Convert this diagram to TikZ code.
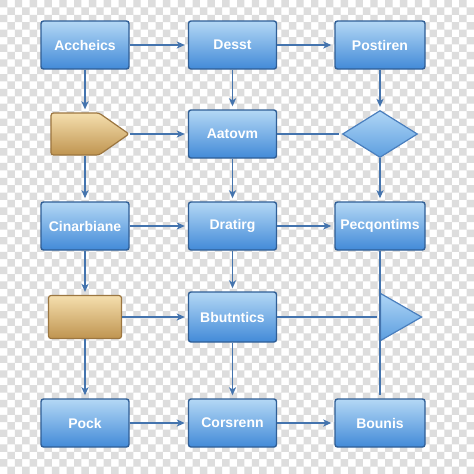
\documentclass[tikz,border=0pt]{standalone}
\usepackage{fontspec}
\setmainfont{Liberation Sans}
\usetikzlibrary{positioning, shapes.geometric, shapes.symbols, arrows.meta}
\definecolor{checker}{HTML}{DDDDDD}
\definecolor{boxtop}{HTML}{B4D8F5}
\definecolor{boxbot}{HTML}{428AD8}
\definecolor{boxedge}{HTML}{2F5E96}
\definecolor{tantop}{HTML}{F5DFAE}
\definecolor{tanbot}{HTML}{BF9450}
\definecolor{tanedge}{HTML}{9C7640}
\definecolor{shapetop}{HTML}{B0D6F6}
\definecolor{shapebot}{HTML}{5C9EDF}
\definecolor{shapeedge}{HTML}{4A7FBE}
\definecolor{linkblue}{HTML}{4474AE}
\tikzset{>={Stealth[length=8pt,width=7pt,inset=2pt]},node distance=147.5pt,on grid,
  box/.style={draw=boxedge, line width=1.4pt, rounded corners=2.5pt,
    top color=boxtop, bottom color=boxbot, minimum width=88pt, minimum height=48pt,
    text=white, font=\fontsize{14}{16}\selectfont\bfseries},
  tanbox/.style={draw=tanedge, line width=1.2pt, rounded corners=2.5pt,
    top color=tantop, bottom color=tanbot, minimum width=73pt, minimum height=43pt},
  tanarrow/.style={tanbox, signal, signal to=east, signal pointer angle=70,
    minimum width=78pt, minimum height=42pt, inner sep=0pt},
  decision/.style={diamond, draw=shapeedge, line width=1.2pt, top color=shapetop,
    bottom color=shapebot, minimum width=75pt, minimum height=47pt, inner sep=0pt},
  flag/.style={isosceles triangle, isosceles triangle stretches, draw=shapeedge,
    line width=1.2pt, top color=shapetop, bottom color=shapebot,
    minimum width=47pt, minimum height=41pt, inner sep=0pt},
  link/.style={draw=linkblue, line width=1.8pt, shorten >=3pt}}

\begin{document}
\begin{tikzpicture}[x=1pt,y=1pt]
\useasboundingbox (0,0) rectangle (474,-474);
% checkered background
\fill[white] (0,0) rectangle (474,-474);
\fill[checker] \foreach \i in {0,...,63} {
  \foreach \j in {0,2,...,62} {
    ({\i*7.40625},{-(\j+mod(\i,2))*7.40625}) rectangle ++(7.40625,-7.40625)
  }};

\node[box] (acc) at (85,-45) {Accheics};
\node[box, right=of acc] (des) {Desst};
\node[box, right=of des, minimum width=90pt] (pos) {Postiren};
\node[tanarrow, below=89pt of acc, xshift=-10pt] (pnt) {};
\node[box, below=89pt of des] (aat) {Aatovm};
\node[decision, below=89pt of pos] (dia) {};
\node[box, below=181pt of acc] (cin) {Cinarbiane};
\node[box, right=of cin] (dra) {Dratirg};
\node[box, right=of dra, minimum width=90pt] (pcq) {Pecqontims};
\node[tanbox, below=91pt of cin] (tan) {};
\node[box, right=of tan, minimum height=50pt] (bbu) {Bbutntics};
\node[flag, anchor=lower side] (tri) at (bbu -| pcq) {};
\node[box, below=106pt of tan] (poc) {Pock};
\node[box, right=of poc] (cor) {Corsrenn};
\node[box, right=of cor, minimum width=90pt] (bou) {Bounis};

\draw[link]
(acc) edge[->] (des)
(des) edge[->] (pos)
(acc) edge[->] (acc |- pnt.north)
(des) edge[->] (aat)
(pos) edge[->] (dia)
(pnt) edge[->] (aat)
(aat) edge (dia)
(acc |- pnt.south) edge[->] (cin)
(aat) edge[->] (dra)
(dia) edge[->] (pcq)
(cin) edge[->] (dra)
(dra) edge[->] (pcq)
(cin) edge[->] (tan)
(dra) edge[->] (bbu)
(pcq) edge (bou)
(tan) edge[->] (bbu)
(bbu) edge (tri.lower side)
(tan) edge[->] (poc)
(bbu) edge[->] (cor)
(poc) edge[->] (cor)
(cor) edge[->] (bou);
\end{tikzpicture}
\end{document}
